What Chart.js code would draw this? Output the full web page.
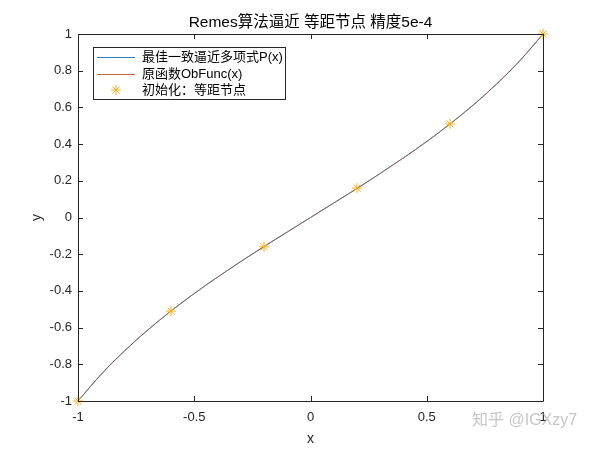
<!DOCTYPE html>
<html>
<head>
<meta charset="utf-8">
<script src="https://cdn.jsdelivr.net/npm/chart.js@4"></script>
<style>
  html, body { margin: 0; padding: 0; background: #fff; }
</style>
</head>
<body>
<canvas id="chartRemes" width="600" height="450"></canvas>
<script>
// values
var xs      = [-1, -0.9, -0.8, -0.7, -0.6, -0.5, -0.4, -0.3, -0.2, -0.1, 0, 0.1, 0.2, 0.3, 0.4, 0.5, 0.6, 0.7, 0.8, 0.9, 1];
var polyP   = [-1, -0.854, -0.727, -0.613, -0.51, -0.414, -0.325, -0.24, -0.158, -0.079, 0, 0.079, 0.158, 0.24, 0.325, 0.414, 0.51, 0.613, 0.727, 0.854, 1];
var obFunc  = [-1, -0.854, -0.727, -0.613, -0.509, -0.414, -0.325, -0.24, -0.158, -0.079, 0, 0.079, 0.158, 0.24, 0.325, 0.414, 0.509, 0.613, 0.727, 0.854, 1];
var nodeX   = [-1, -0.6, -0.2, 0.2, 0.6, 1];
var nodeY   = [-1, -0.51, -0.16, 0.16, 0.51, 1];
var xTicks  = [-1, -0.5, 0, 0.5, 1];
var yTicks  = [-1, -0.8, -0.6, -0.4, -0.2, 0, 0.2, 0.4, 0.6, 0.8, 1];
var labels  = ['最佳一致逼近多项式P(x)', '原函数ObFunc(x)', '初始化：等距节点'];

var FONT = '"Liberation Sans", "Noto Sans CJK SC", sans-serif';
var AXC = "#262626";
var colors = ["#2f7fc0", "#c0683f", "#EDB120"];

function pts(a, b) {
    return a.map(function (v, i) { return {x: v, y: b[i]}; });
}

function fmt(v) {
    return String(Math.round(v * 10) / 10);
}

// box, inward ticks, legend and watermark
var matlabLook = {
    id: 'matlabLook',
    afterDatasetsDraw: function (chart) {
        var ctx = chart.ctx;
        var a = chart.chartArea;
        var sx = chart.scales.x, sy = chart.scales.y;
        ctx.save();
        ctx.strokeStyle = AXC;
        ctx.lineWidth = 1;
        ctx.beginPath();
        ctx.rect(Math.round(a.left) + 0.5, Math.round(a.top) + 0.5,
                 Math.round(a.right - a.left), Math.round(a.bottom - a.top));
        xTicks.forEach(function (t) {
            var px = Math.round(sx.getPixelForValue(t)) + 0.5;
            ctx.moveTo(px, a.bottom); ctx.lineTo(px, a.bottom - 5);
            ctx.moveTo(px, a.top); ctx.lineTo(px, a.top + 5);
        });
        yTicks.forEach(function (t) {
            var py = Math.round(sy.getPixelForValue(t)) + 0.5;
            ctx.moveTo(a.left, py); ctx.lineTo(a.left + 5, py);
            ctx.moveTo(a.right, py); ctx.lineTo(a.right - 5, py);
        });
        ctx.stroke();

        // legend
        var lx = 93, ly = 47, lw = 192, lh = 52;
        ctx.fillStyle = "#fff";
        ctx.fillRect(lx, ly, lw, lh);
        ctx.strokeRect(lx + 0.5, ly + 0.5, lw, lh);
        var rows = [57, 74, 90];
        ctx.font = "13px " + FONT;
        ctx.textBaseline = "middle";
        ctx.textAlign = "left";
        rows.forEach(function (ry, i) {
            ctx.strokeStyle = colors[i];
            ctx.lineWidth = 1;
            if (i < 2) {
                ctx.beginPath();
                ctx.moveTo(97, ry + 0.5); ctx.lineTo(135, ry + 0.5);
                ctx.stroke();
            } else {
                Chart.helpers.drawPoint(ctx, {pointStyle: 'star', radius: 5, borderWidth: 1}, 116, ry);
            }
            ctx.fillStyle = "#000";
            ctx.fillText(labels[i], 142, ry);
        });

        // watermark
        ctx.font = "16px " + FONT;
        ctx.fillStyle = "rgba(160,160,160,0.6)";
        ctx.textBaseline = "middle";
        ctx.fillText("知乎 @IGXzy7", 472, 421);
        ctx.restore();
    }
};

var ctx = document.getElementById("chartRemes");
var chartRemes = new Chart(ctx, {
    type: 'line',
    data: {
        datasets: [
            {
                label: labels[0],
                data: pts(xs, polyP),
                borderColor: "#0072BD",
                borderWidth: 1,
                pointRadius: 0,
                cubicInterpolationMode: 'monotone',
                fill: false,
                order: 2
            },
            {
                label: labels[1],
                data: pts(xs, obFunc),
                borderColor: "rgba(217,83,25,0.65)",
                borderWidth: 1,
                pointRadius: 0,
                cubicInterpolationMode: 'monotone',
                fill: false,
                order: 1
            },
            {
                label: labels[2],
                data: pts(nodeX, nodeY),
                showLine: false,
                borderColor: colors[2],
                backgroundColor: colors[2],
                pointStyle: 'star',
                pointRadius: 5,
                pointBorderWidth: 1,
                clip: false,
                order: 0
            }
        ]
    },
    options: {
        responsive: false,
        animation: false,
        layout: {
            padding: {left: 0, right: 57, top: 0, bottom: 0}
        },
        plugins: {
            legend: { display: false },
            tooltip: { enabled: false },
            title: {
                display: true,
                fullSize: false,
                text: "Remes算法逼近 等距节点 精度5e-4",
                color: "#000",
                font: { family: FONT, size: 15.5, weight: 'normal', lineHeight: 1.2 },
                padding: { top: 13, bottom: 2.4 }
            }
        },
        scales: {
            x: {
                type: 'linear',
                min: -1,
                max: 1,
                afterBuildTicks: function (s) {
                    s.ticks = xTicks.map(function (v) { return {value: v}; });
                },
                afterFit: function (s) { s.height = 49; },
                grid: { display: false, drawTicks: false },
                border: { display: false },
                ticks: {
                    color: AXC,
                    padding: 9,
                    maxRotation: 0,
                    font: { family: FONT, size: 13 },
                    callback: function (v) { return fmt(v); }
                },
                title: {
                    display: true,
                    text: "x",
                    color: AXC,
                    font: { family: FONT, size: 14, lineHeight: 1.2 },
                    padding: { top: 0, bottom: 2 }
                }
            },
            y: {
                type: 'linear',
                min: -1,
                max: 1,
                afterBuildTicks: function (s) {
                    s.ticks = yTicks.map(function (v) { return {value: v}; });
                },
                afterFit: function (s) { s.width = 78; },
                grid: { display: false, drawTicks: false },
                border: { display: false },
                ticks: {
                    color: AXC,
                    padding: 6,
                    font: { family: FONT, size: 13 },
                    callback: function (v) { return fmt(v); }
                },
                title: {
                    display: true,
                    text: "y",
                    color: AXC,
                    font: { family: FONT, size: 14, lineHeight: 1.2 },
                    padding: { top: 29, bottom: 0 }
                }
            }
        }
    },
    plugins: [matlabLook]
});
</script>
</body>
</html>
